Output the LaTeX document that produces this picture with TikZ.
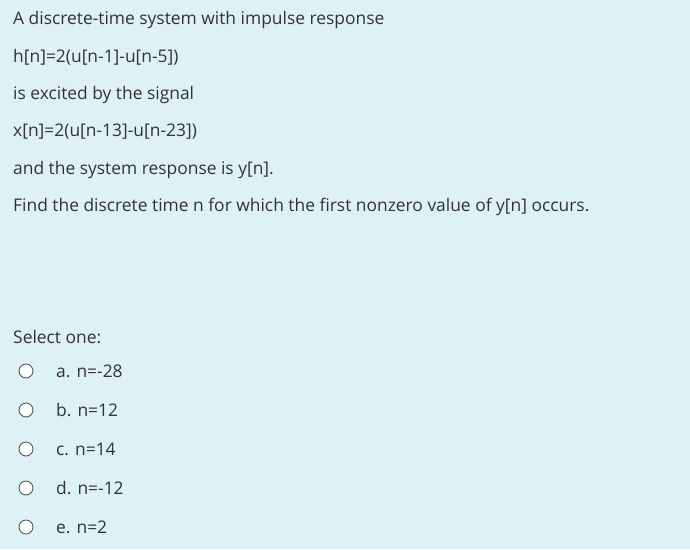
\documentclass[tikz,border=0pt]{standalone}
\usepackage{fontspec}
\setmainfont{Open Sans}
\definecolor{bg}{HTML}{DEF1F7}
\definecolor{tx}{HTML}{333333}
\begin{document}
\begin{tikzpicture}[x=1pt,y=-1pt,
  txt/.style={anchor=west,inner sep=0pt,text=tx,font=\fontsize{17.4}{20}\selectfont},
  radio/.style={circle,draw=gray!70!black,fill=white,line width=0.9pt,minimum size=14pt,inner sep=0pt}]
\fill[bg] (0,0) rectangle (690,549);
\useasboundingbox (0,0) rectangle (690,549);
\node[txt] (l1) at (13,20) {A discrete-time system with impulse response};
\node[txt] (l2) at (13,57) {h[n]=2(u[n-1]-u[n-5])};
\node[txt] (l3) at (13,95) {is excited by the signal};
\node[txt] (l4) at (13,132) {x[n]=2(u[n-13]-u[n-23])};
\node[txt] (l5) at (13,170) {and the system response is y[n].};
\node[txt] (l6) at (13,207) {Find the discrete time n for which the first nonzero value of y[n] occurs.};
\node[txt] (s) at (13,337) {Select one:};
\foreach \y/\t [count=\i] in {371/a. n=-28,410/b. n=12,449/c. n=14,488/d. n=-12,527/e. n=2}{
  \node[radio] (r\i) at (26,\y) {};
  \node[txt] (o\i) at (56,\y) {\t};
}
\end{tikzpicture}
\end{document}
